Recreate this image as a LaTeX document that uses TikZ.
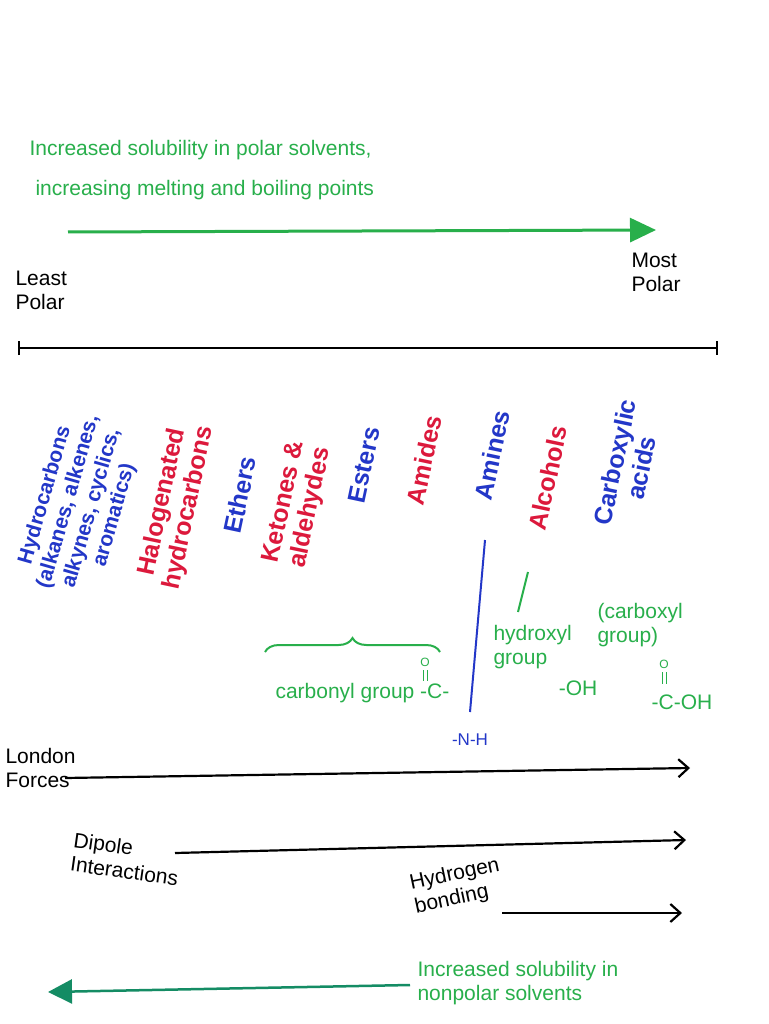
\documentclass[tikz,border=0pt]{standalone}
\usepackage{fontspec}
\setmainfont{Liberation Sans}
\usetikzlibrary{arrows.meta,decorations.pathreplacing}
\definecolor{mgreen}{RGB}{40,175,75}
\definecolor{mteal}{RGB}{20,140,100}
\definecolor{mblue}{RGB}{35,55,200}
\definecolor{mred}{RGB}{220,25,60}
\tikzset{
  hand/.style={font=\fontsize{21}{24}\selectfont, align=left},
  vt/.style={font=\fontsize{25}{27}\selectfont\bfseries, rotate=78, align=center},
  vts/.style={font=\fontsize{21}{24}\selectfont\bfseries, rotate=74, align=center},
  garrow/.style={line width=3pt, draw=mgreen, -{Triangle[length=26pt,width=24pt]}},
  karrow/.style={line width=2.2pt, -{Straight Barb[length=10pt,width=18pt]}},
}
\begin{document}
\begin{tikzpicture}[x=1pt,y=-1pt]
\useasboundingbox (0,0) rectangle (768,1024);
\fill[white] (0,0) rectangle (768,1024);
% top
\node[hand, text=mgreen, anchor=west] (t1) at (26,150) {Increased solubility in polar solvents,};
\node[hand, text=mgreen, anchor=west] (t2) at (32,190) {increasing melting and boiling points};
\coordinate (ga1) at (68,232);
\coordinate (ga2) at (656,230);
\draw[garrow] (ga1) -- (ga2);
\node[hand, anchor=north west] (least) at (12,268) {Least\\Polar};
\node[hand, anchor=north west] (most) at (628,250) {Most\\Polar};
\coordinate (p1) at (18,348);
\coordinate (p2) at (718,348);
\draw[line width=2pt, {Bar[width=14pt]}-{Bar[width=14pt]}] (p1) -- (p2);
% groups
\node[vts, text=mblue] (hc) at (80,505) {Hydrocarbons\\(alkanes, alkenes,\\alkynes, cyclics,\\aromatics)};
\node[vt, text=mred] (hal) at (176,505) {Halogenated\\hydrocarbons};
\node[vt, text=mblue] (eth) at (240,495) {Ethers};
\node[vt, text=mred] (ket) at (298,505) {Ketones \&\\aldehydes};
\node[vt, text=mblue] (est) at (364,465) {Esters};
\node[vt, text=mred] (ami) at (424,460) {Amides};
\node[vt, text=mblue] (amn) at (492,455) {Amines};
\node[vt, text=mred] (alc) at (548,478) {Alcohols};
\node[vt, text=mblue] (car) at (628,465) {Carboxylic\\acids};
% annotations
\coordinate (b1) at (265,652);
\coordinate (b2) at (440,652);
\draw[mgreen, line width=2pt, decorate, decoration={brace, amplitude=14pt}] (b1) -- (b2);
\node[hand, text=mgreen, anchor=west] (cg) at (272,693) {carbonyl group -C-};
\node[text=mgreen, font=\fontsize{12}{12}\selectfont] (cgo) at (425,662) {O};
\draw[mgreen, line width=1pt] (423,670) -- (423,681) (427,670) -- (427,681);
\coordinate (n1) at (485,540);
\coordinate (n2) at (470,712);
\draw[mblue, line width=2pt] (n1) -- (n2);
\node[text=mblue, font=\fontsize{17}{17}\selectfont] (nh) at (470,740) {-N-H};
\coordinate (h1) at (528,572);
\coordinate (h2) at (518,612);
\draw[mgreen, line width=2pt] (h1) -- (h2);
\node[hand, text=mgreen, anchor=north west] (hy) at (490,622) {hydroxyl\\group};
\node[hand, text=mgreen] (oh) at (578,688) {-OH};
\node[hand, text=mgreen, anchor=north west] (cx) at (594,600) {(carboxyl\\group)};
\node[hand, text=mgreen] (coh) at (682,702) {-C-OH};
\node[text=mgreen, font=\fontsize{12}{12}\selectfont] (cxo) at (664,664) {O};
\draw[mgreen, line width=1pt] (662,672) -- (662,684) (666,672) -- (666,684);
% forces
\node[hand, anchor=north west] (lon) at (2,745) {London\\Forces};
\coordinate (l1) at (65,778);
\coordinate (l2) at (690,768);
\draw[karrow] (l1) -- (l2);
\node[hand, anchor=north west, rotate=-8] (dip) at (72,828) {Dipole\\Interactions};
\coordinate (d1) at (175,853);
\coordinate (d2) at (686,840);
\draw[karrow] (d1) -- (d2);
\node[hand, anchor=north west, rotate=12] (hb) at (404,872) {Hydrogen\\bonding};
\coordinate (hb1) at (502,913);
\coordinate (hb2) at (682,913);
\draw[karrow] (hb1) -- (hb2);
\coordinate (s1) at (410,985);
\coordinate (s2) at (48,992);
\draw[line width=2.5pt, draw=mteal, -{Triangle[length=24pt,width=24pt]}] (s1) -- (s2);
\node[hand, text=mgreen, anchor=north west] (np) at (414,958) {Increased solubility in\\nonpolar solvents};
\end{tikzpicture}
\end{document}
